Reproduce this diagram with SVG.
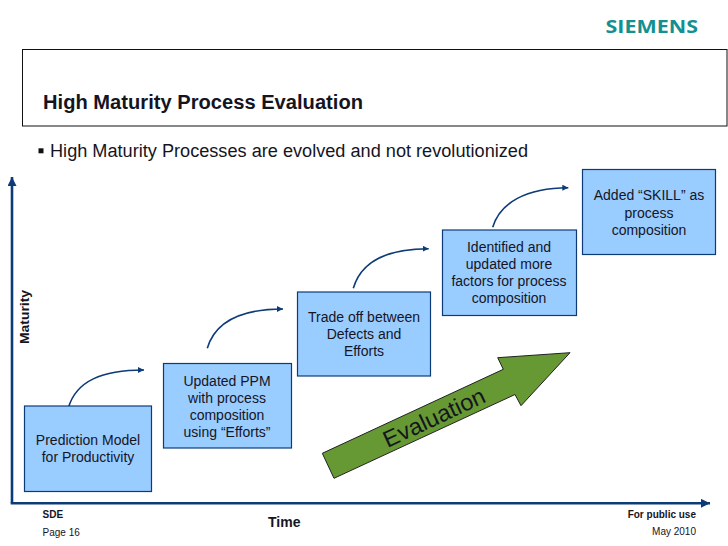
<svg xmlns="http://www.w3.org/2000/svg" width="728" height="546" viewBox="0 0 728 546">
<style>
text{font-family:"Liberation Sans",Arial,sans-serif;fill:#15151f}
.b{fill:#99ccff;stroke:#0c3b78;stroke-width:1.2}
.t{font-size:14px;text-anchor:middle}
.c{fill:none;stroke:#0c3b78;stroke-width:1.6;marker-end:url(#h)}
.ax{fill:none;stroke:#0c3b78;stroke-width:2.6;marker-end:url(#a)}
</style>
<defs>
<marker id="h" markerUnits="userSpaceOnUse" markerWidth="7" markerHeight="6" refX="6" refY="3" orient="auto"><path d="M0 0L6 3L0 6z" fill="#0c3b78"/></marker>
<marker id="a" markerUnits="userSpaceOnUse" markerWidth="10" markerHeight="9" refX="9" refY="4.5" orient="auto"><path d="M0 0L9 4.5L0 9z" fill="#0c3b78"/></marker>
</defs>
<g id="logo"><text x="605.500" y="32.500" style="font-family:'Open Sans','DejaVu Sans',sans-serif;fill:#13908f;font-weight:bold;font-size:18.500px" textLength="92.500" lengthAdjust="spacingAndGlyphs">SIEMENS</text></g>
<g id="title"><rect x="22.500" y="49.500" width="704.500" height="76.500" fill="#fff" stroke="#111" stroke-width="1"/><text x="43" y="109" font-size="19.500" font-weight="bold" textLength="320" lengthAdjust="spacingAndGlyphs">High Maturity Process Evaluation</text></g>
<g id="bullet"><rect x="38.500" y="148.300" width="5" height="5" fill="#111"/><text x="50" y="157.300" font-size="18" textLength="478" lengthAdjust="spacingAndGlyphs">High Maturity Processes are evolved and not revolutionized</text></g>
<g id="connectors">
<path class="ax" d="M12 503.300V177"/><path class="ax" d="M10.700 503.300H710"/>
<path class="c" d="M68.300 408C76 381 102 370 144 370"/>
<path class="c" d="M207.300 348.300C215 322 241 309 283 309"/>
<path class="c" d="M353.300 288.300C361 262 387 248.700 428.700 248.700"/>
<path class="c" d="M492.700 227.300C500 203 526 187.700 568.300 187.700"/>
</g>
<g id="n1"><rect class="b" x="24.500" y="406" width="127" height="85.500"/><text class="t" x="88" y="445">Prediction Model</text><text class="t" x="88" y="462">for Productivity</text></g>
<g id="n2"><rect class="b" x="163.500" y="363.500" width="128" height="84.500"/><text class="t" x="227" y="386">Updated PPM</text><text class="t" x="227" y="403">with process</text><text class="t" x="227" y="420">composition</text><text class="t" x="227" y="437">using “Efforts”</text></g>
<g id="n3"><rect class="b" x="297.500" y="292" width="133" height="84"/><text class="t" x="364" y="322">Trade off between</text><text class="t" x="364" y="339">Defects and</text><text class="t" x="364" y="356">Efforts</text></g>
<g id="n4"><rect class="b" x="442.500" y="230" width="134" height="85.500"/><text class="t" x="509" y="252">Identified and</text><text class="t" x="509" y="269">updated more</text><text class="t" x="509" y="286">factors for process</text><text class="t" x="509" y="303">composition</text></g>
<g id="n5"><rect class="b" x="582.500" y="169.500" width="133" height="85"/><text class="t" x="649" y="200">Added “SKILL” as</text><text class="t" x="649" y="218">process</text><text class="t" x="649" y="235">composition</text></g>
<g id="evaluation"><path d="M570 352.700L497.700 357.700L503.300 369.300L322.300 453.300L334 478.300L515 394.500L521 405.700Z" fill="#669933" stroke="#222" stroke-width="1"/><text transform="translate(387.500 448) rotate(-25)" font-size="23" textLength="110" lengthAdjust="spacingAndGlyphs">Evaluation</text></g>
<g id="labels">
<text transform="translate(28.500 344) rotate(-90)" font-size="12.500" font-weight="bold" textLength="54" lengthAdjust="spacingAndGlyphs">Maturity</text>
<text x="268" y="527" font-size="14" font-weight="bold">Time</text>
<text x="42.500" y="517.700" font-size="10" font-weight="bold">SDE</text>
<text x="42.500" y="536" font-size="10">Page 16</text>
<text x="696" y="517.700" font-size="10" font-weight="bold" text-anchor="end">For public use</text>
<text x="696" y="535" font-size="10" text-anchor="end">May 2010</text>
</g>
</svg>
